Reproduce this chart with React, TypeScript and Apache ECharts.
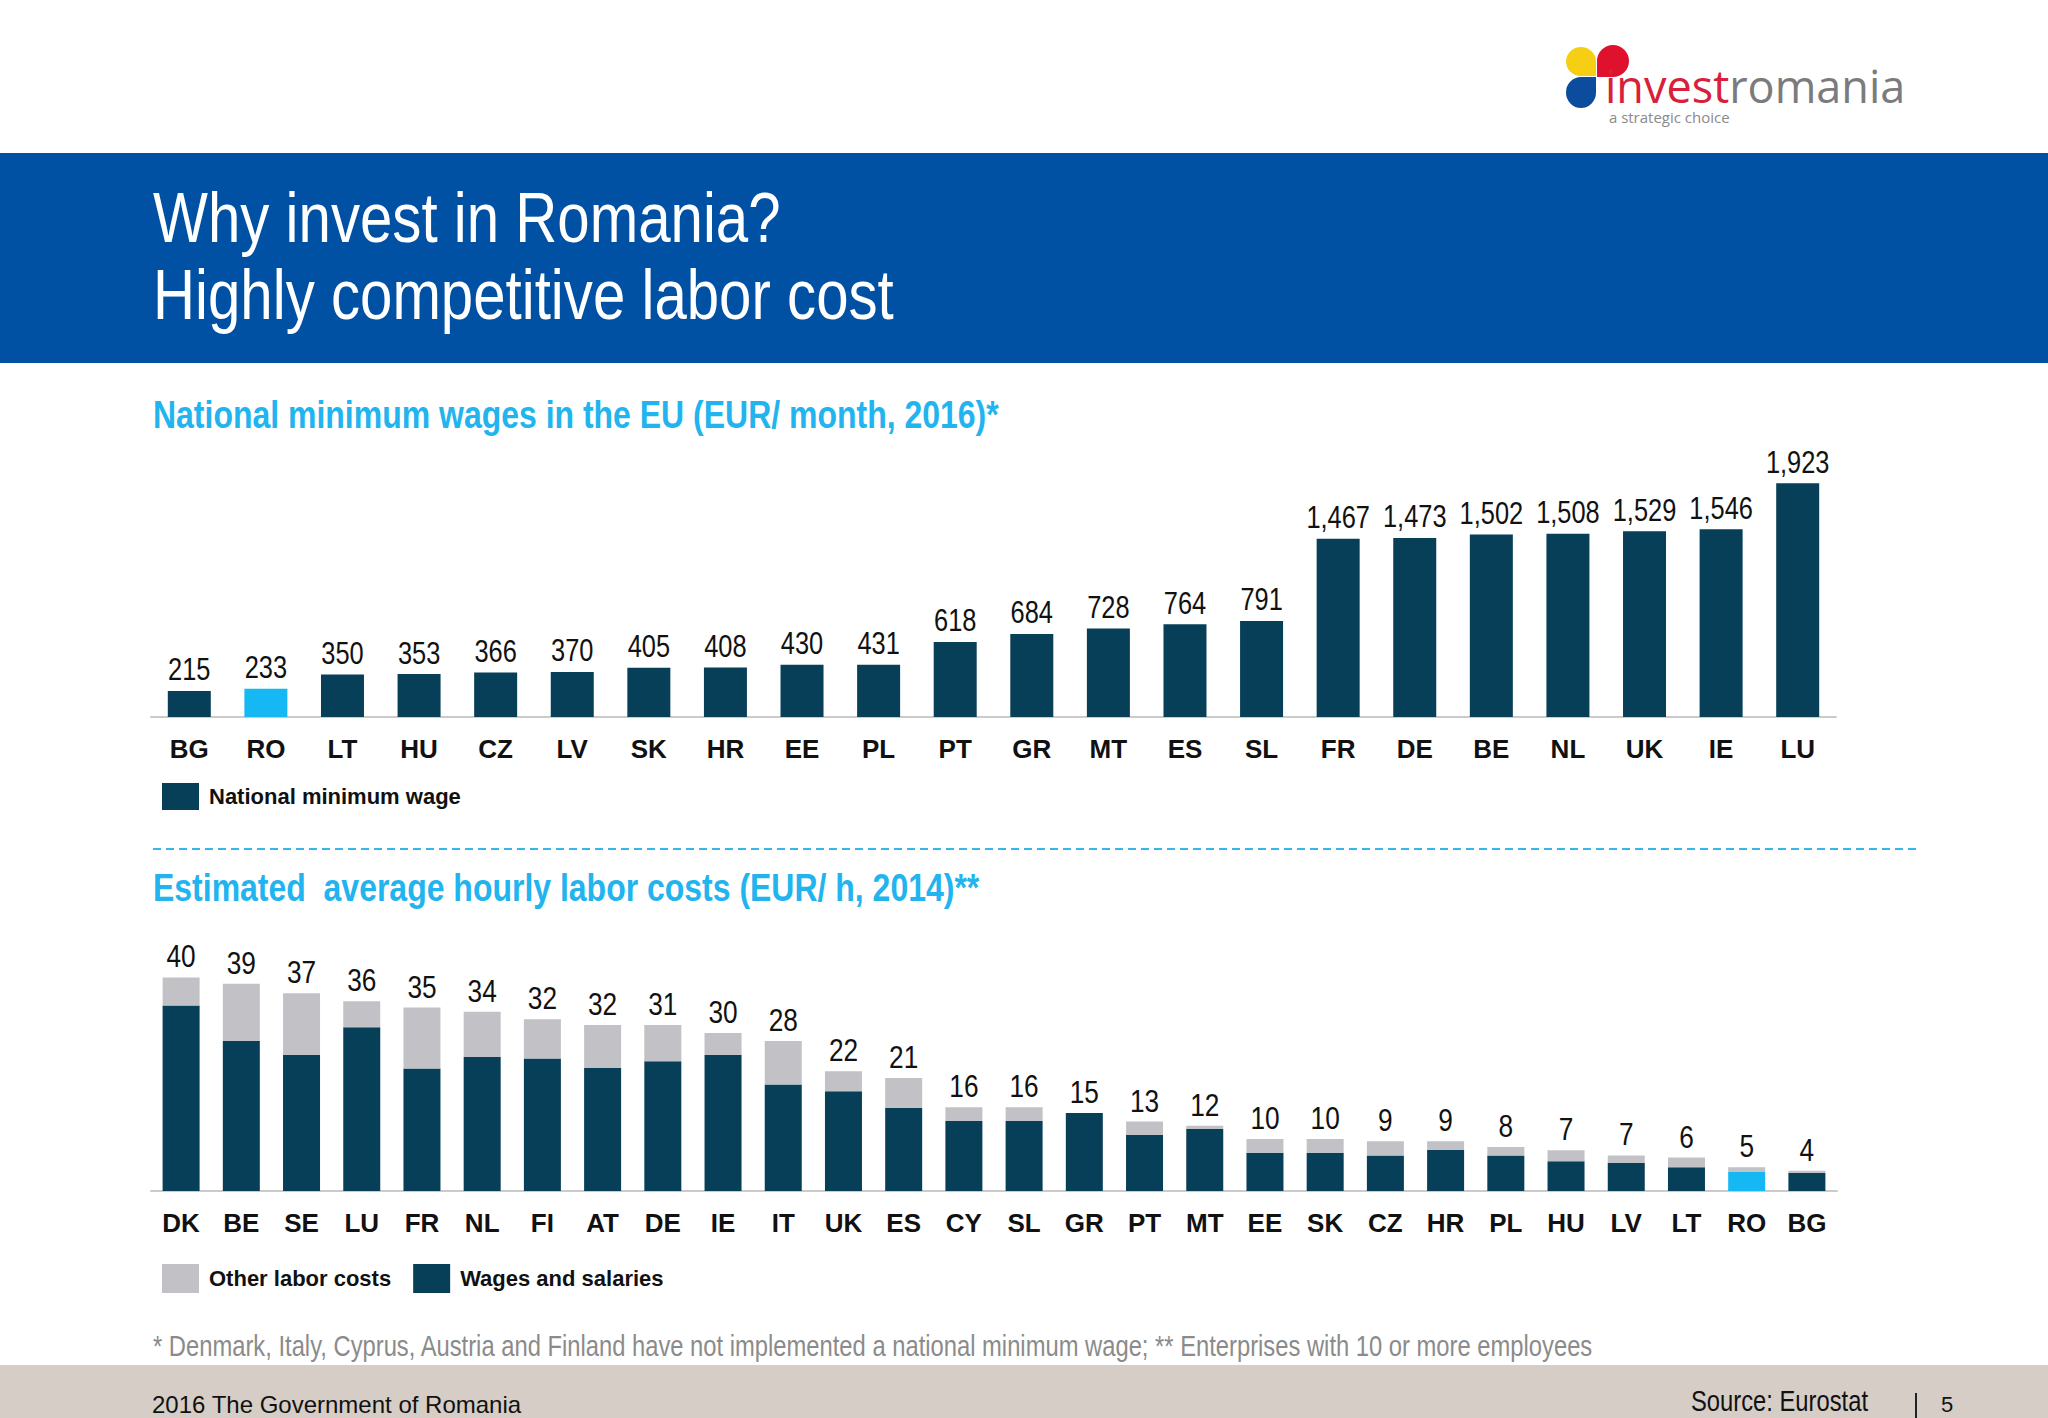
import React, { useEffect, useRef } from "react";
import * as echarts from "echarts";

// ---------- data ----------
const topCategories = ["BG", "RO", "LT", "HU", "CZ", "LV", "SK", "HR", "EE", "PL", "PT", "GR", "MT", "ES", "SL", "FR", "DE", "BE", "NL", "UK", "IE", "LU"];
const minimumWages = [215, 233, 350, 353, 366, 370, 405, 408, 430, 431, 618, 684, 728, 764, 791, 1467, 1473, 1502, 1508, 1529, 1546, 1923];

const bottomCategories = ["DK", "BE", "SE", "LU", "FR", "NL", "FI", "AT", "DE", "IE", "IT", "UK", "ES", "CY", "SL", "GR", "PT", "MT", "EE", "SK", "CZ", "HR", "PL", "HU", "LV", "LT", "RO", "BG"];
const wagesSalaries = [35.0, 28.3, 25.7, 30.9, 23.1, 25.3, 25.0, 23.2, 24.5, 25.7, 20.1, 18.8, 15.7, 13.2, 13.2, 14.7, 10.6, 11.7, 7.2, 7.2, 6.7, 7.8, 6.7, 5.6, 5.3, 4.5, 3.7, 3.4];
const otherLaborCosts = [5.3, 10.8, 11.6, 4.9, 11.5, 8.5, 7.4, 8.1, 6.8, 4.1, 8.2, 3.8, 5.6, 2.6, 2.6, 0, 2.5, 0.6, 2.6, 2.6, 2.7, 1.6, 1.6, 2.1, 1.4, 1.8, 0.8, 0.4];
const totalLabels = ["40", "39", "37", "36", "35", "34", "32", "32", "31", "30", "28", "22", "21", "16", "16", "15", "13", "12", "10", "10", "9", "9", "8", "7", "7", "6", "5", "4"];

const highlightCountry = "RO";

// ---------- styles ----------
const DARK = "#063f57";
const CYAN = "#16b8f3";
const GREY = "#c2c1c5";
const SANS = "'Liberation Sans', Arial, sans-serif";
const OPEN = "'Open Sans', sans-serif";
const NARROW = 0.82; // horizontal squeeze to imitate Arial Narrow

echarts.graphic.registerShape(
  "petal",
  echarts.graphic.extendPath("M1,1 L0.5,1 A0.5,0.5 0 0 1 0,0.5 A0.5,0.5 0 0 1 0.5,0 A0.5,0.5 0 0 1 1,0.5 Z", {})
);

function txt(x: number, y: number, text: string, font: string, fill: string, sx = 1, extra: any = {}) {
  return {
    type: "text",
    x,
    y,
    scaleX: sx,
    silent: true,
    style: {
      text,
      font,
      fill,
      align: "left",
      verticalAlign: "middle",
      textAlign: "left",
      textVerticalAlign: "middle",
      ...extra,
    },
  };
}

// value labels drawn above bars with a narrow (squeezed) font
function labelRenderer(gap: number, fontSize: number, labels: string[]) {
  return (params: any, api: any) => {
    const pt = api.coord([api.value(0), api.value(1)]);
    return {
      type: "text",
      x: pt[0],
      y: pt[1] - gap,
      scaleX: NARROW,
      silent: true,
      style: {
        text: labels[params.dataIndex],
        font: `${fontSize}px ${SANS}`,
        fill: "#111111",
        align: "center",
        verticalAlign: "bottom",
        textAlign: "center",
        textVerticalAlign: "bottom",
      },
    };
  };
}

export default function App() {
  const ref = useRef<HTMLDivElement>(null);

  useEffect(() => {
    if (!ref.current) return;
    const chart = echarts.init(ref.current, undefined, { renderer: "svg" });

    const axisCommon = {
      type: "category",
      axisLine: { lineStyle: { color: "#cbcbcb", width: 2 } },
      axisTick: { show: false },
      axisLabel: { margin: 19, color: "#111111", fontFamily: SANS, fontWeight: "bold", fontSize: 26 },
    };

    const legendText = { fontFamily: SANS, fontWeight: "bold", fontSize: 22, color: "#111111", padding: [0, 0, 0, 5] };

    const wageLabels = minimumWages.map((v) => v.toLocaleString("en-US"));

    const option: any = {
      animation: false,
      backgroundColor: "#ffffff",
      grid: [
        { left: 151, right: 212, top: 474, height: 243 },
        { left: 151, right: 211, top: 926, height: 265 },
      ],
      xAxis: [
        { ...axisCommon, gridIndex: 0, data: topCategories },
        { ...axisCommon, gridIndex: 1, data: bottomCategories },
      ],
      yAxis: [
        { type: "value", gridIndex: 0, min: 0, max: 2000, show: false },
        { type: "value", gridIndex: 1, min: 0, max: 50, show: false },
      ],
      legend: [
        {
          data: ["National minimum wage"],
          left: 162,
          top: 783,
          padding: 0,
          icon: "rect",
          itemWidth: 37,
          itemHeight: 27,
          selectedMode: false,
          textStyle: legendText,
        },
        {
          data: ["Other labor costs", "Wages and salaries"],
          left: 162,
          top: 1264,
          padding: 0,
          icon: "rect",
          itemWidth: 37,
          itemHeight: 29,
          itemGap: 22,
          selectedMode: false,
          textStyle: legendText,
        },
      ],
      series: [
        {
          name: "National minimum wage",
          type: "bar",
          xAxisIndex: 0,
          yAxisIndex: 0,
          barWidth: 43,
          itemStyle: { color: DARK },
          data: minimumWages.map((v, i) =>
            topCategories[i] === highlightCountry ? { value: v, itemStyle: { color: CYAN } } : v
          ),
        },
        {
          name: "Wages and salaries",
          type: "bar",
          stack: "cost",
          xAxisIndex: 1,
          yAxisIndex: 1,
          barWidth: 37,
          itemStyle: { color: DARK },
          data: wagesSalaries.map((v, i) =>
            bottomCategories[i] === highlightCountry ? { value: v, itemStyle: { color: CYAN } } : v
          ),
        },
        {
          name: "Other labor costs",
          type: "bar",
          stack: "cost",
          xAxisIndex: 1,
          yAxisIndex: 1,
          barWidth: 37,
          itemStyle: { color: GREY },
          data: otherLaborCosts,
        },
        {
          name: "minimum wage labels",
          type: "custom",
          xAxisIndex: 0,
          yAxisIndex: 0,
          silent: true,
          renderItem: labelRenderer(6, 31, wageLabels),
          data: minimumWages.map((v, i) => [i, v]),
        },
        {
          name: "labor cost labels",
          type: "custom",
          xAxisIndex: 1,
          yAxisIndex: 1,
          silent: true,
          renderItem: labelRenderer(5, 32, totalLabels),
          data: totalLabels.map((t, i) => [i, wagesSalaries[i] + otherLaborCosts[i]]),
        },
      ],
      graphic: [
        // title band
        { type: "rect", silent: true, shape: { x: 0, y: 153, width: 2048, height: 210 }, style: { fill: "#0051a4" } },
        txt(153, 217, "Why invest in Romania?", `71px ${SANS}`, "#ffffff", NARROW),
        txt(153, 294, "Highly competitive labor cost", `71px ${SANS}`, "#ffffff", NARROW),
        // logo
        { type: "petal", silent: true, x: 1566, y: 47, scaleX: 30, scaleY: 29, style: { fill: "#f6cf14" } },
        { type: "petal", silent: true, x: 1629, y: 45, scaleX: -32, scaleY: 32, style: { fill: "#e0112c" } },
        { type: "petal", silent: true, x: 1566, y: 108, scaleX: 30, scaleY: -31, style: { fill: "#0c4c9c" } },
        txt(1605, 64, "{r|invest}{g|romania}\n{t| a strategic choice}", `45px ${OPEN}`, "#7b7b7d", 1, {
          verticalAlign: "top",
          textVerticalAlign: "top",
          rich: {
            r: { fill: "#d8203a", fontSize: 45, fontFamily: OPEN, lineHeight: 43 },
            g: { fill: "#7b7b7d", fontSize: 45, fontFamily: OPEN, lineHeight: 43 },
            t: { fill: "#8a8a8a", fontSize: 15, fontFamily: OPEN, lineHeight: 20 },
          },
        }),
        // subtitles
        txt(153, 415, "National minimum wages in the EU (EUR/ month, 2016)*", `bold 39px ${SANS}`, "#22b4ee", NARROW),
        txt(153, 888, "Estimated  average hourly labor costs (EUR/ h, 2014)**", `bold 39px ${SANS}`, "#22b4ee", NARROW),
        // dashed separator
        {
          type: "line",
          silent: true,
          shape: { x1: 153, y1: 849, x2: 1917, y2: 849 },
          style: { stroke: "#38b6ea", lineWidth: 2, lineDash: [8, 5] },
        },
        // footnote
        txt(153, 1346, "* Denmark, Italy, Cyprus, Austria and Finland have not implemented a national minimum wage; ** Enterprises with 10 or more employees", `29px ${SANS}`, "#8b8b8b", NARROW),
        // footer band
        { type: "rect", silent: true, shape: { x: 0, y: 1365, width: 2048, height: 53 }, style: { fill: "#d6cdc6" } },
        txt(152, 1404, "2016 The Government of Romania", `24px ${SANS}`, "#111111"),
        txt(1691, 1401, "Source: Eurostat", `29px ${SANS}`, "#111111", NARROW),
        { type: "line", silent: true, shape: { x1: 1916, y1: 1393, x2: 1916, y2: 1418 }, style: { stroke: "#222222", lineWidth: 2 } },
        txt(1941, 1404, "5", `22px ${SANS}`, "#111111"),
      ],
    };

    chart.setOption(option);
    return () => chart.dispose();
  }, []);

  return <div ref={ref} style={{ position: "absolute", left: 0, top: 0, width: 2048, height: 1418 }} />;
}
